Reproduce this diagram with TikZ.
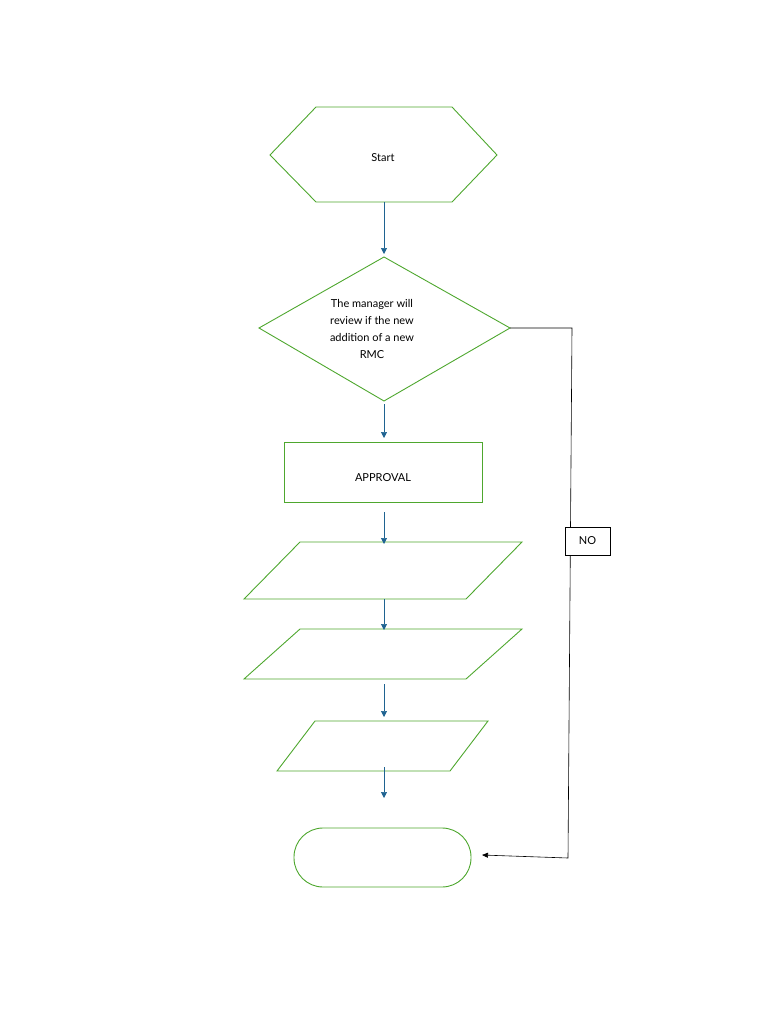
\documentclass[tikz,border=0pt]{standalone}
\usepackage{fontspec}
\setmainfont{Lato}
\usetikzlibrary{arrows.meta}
\definecolor{grn}{HTML}{4EA72E}
\definecolor{arr}{HTML}{1F6391}
\tikzset{shp/.style={draw=grn,line width=0.9pt},
 flow/.style={draw=arr,line width=0.7pt,-{Triangle[length=6pt,width=6pt]}},
 lbl/.style={font=\fontsize{11}{17}\selectfont,align=center}}
\begin{document}
\begin{tikzpicture}[x=1pt,y=-1pt]
\useasboundingbox (0,0) rectangle (768,1024);
\draw[shp] (270,155)--(316,107)--(452,107)--(497,155)--(452,202)--(316,202)--cycle;
\node[lbl] (start) at (383,158) {Start};
\draw[shp] (259,328)--(384,257)--(510,328)--(384,401)--cycle;
\node[lbl] (dec) at (372,329) {The manager will\\review if the new\\addition of a new\\RMC};
\draw[shp] (284,442) rectangle (482,502);
\node[lbl] (app) at (383,478) {APPROVAL};
\draw[shp] (300,542)--(522,542)--(466,599)--(244,599)--cycle;
\draw[shp] (300,629)--(522,629)--(466,679)--(244,679)--cycle;
\draw[shp] (315,721)--(488,721)--(450,771)--(277,771)--cycle;
\draw[shp,rounded corners=29pt] (294,828) rectangle (471,887);
\coordinate (a1) at (384,202); \coordinate (b1) at (384,254);
\coordinate (a2) at (384,404); \coordinate (b2) at (384,438);
\coordinate (a3) at (384,512); \coordinate (b3) at (384,544);
\coordinate (a4) at (384,599); \coordinate (b4) at (384,630);
\coordinate (a5) at (384,684); \coordinate (b5) at (384,717);
\coordinate (a6) at (384,767); \coordinate (b6) at (384,798);
\foreach \i in {1,...,6} \draw[flow] (a\i)--(b\i);
\coordinate (r) at (510,328); \coordinate (c1) at (572,328);
\coordinate (c2) at (568,858); \coordinate (e) at (482,855);
\draw[line width=0.6pt,-{Triangle[length=6pt,width=5pt]}] (r)--(c1)--(c2)--(e);
\node[draw,fill=white,lbl,minimum width=45pt,minimum height=28pt,inner sep=0pt] (no) at (587.5,541) {NO};
\end{tikzpicture}
\end{document}
